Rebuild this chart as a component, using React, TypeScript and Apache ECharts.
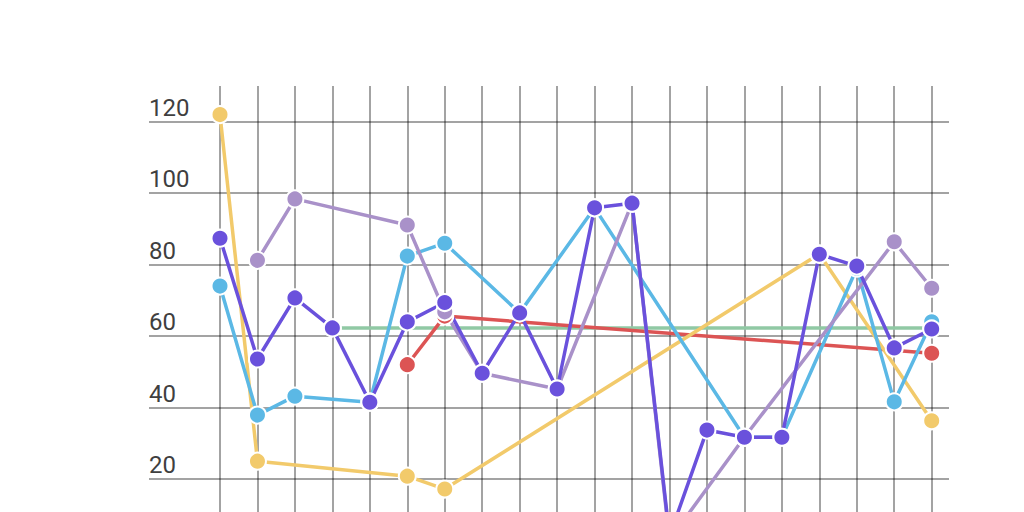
import React, { useEffect, useRef } from "react";
import * as echarts from "echarts";

const categories = ["1", "2", "3", "4", "5", "6", "7", "8", "9", "10", "11", "12", "13", "14", "15", "16", "17", "18", "19", "20"];
const yTicks = [0, 20, 40, 60, 80, 100, 120];

const greenValues = [null, null, null, 62.3, null, null, null, null, null, null, null, null, null, null, null, null, null, null, null, 62.3];
const redValues = [null, null, null, null, null, 52, 65.6, null, null, null, null, null, null, null, null, null, null, null, null, 55.2];
const yellowValues = [122, 25, null, null, null, 20.8, 17.2, null, null, null, null, null, null, null, null, null, 83, null, null, 36.3];
const blueValues = [74, 37.9, 43.2, null, 41.5, 82.4, 86, null, 66.5, null, 95.9, null, null, null, 31.7, 31.7, null, 79, 41.6, 64];
const lilacValues = [null, 81.2, 98.4, null, null, 91.1, 66.8, 49.6, null, 45.2, null, 97.2, 3, null, 31.7, null, null, null, 86.4, 73.4];
const violetValues = [87.4, 53.6, 70.7, 62.3, 41.5, 64, 69.4, 49.6, 66.5, 45.2, 95.9, 97.2, 4, 33.7, 31.7, 31.7, 82.9, 79.6, 56.7, 62];

const seriesDefs = [
  { name: "green", color: "#90c9a4", data: greenValues },
  { name: "red", color: "#dc5454", data: redValues },
  { name: "yellow", color: "#f2ca6b", data: yellowValues },
  { name: "blue", color: "#5bb8e5", data: blueValues },
  { name: "lilac", color: "#a991c9", data: lilacValues },
  { name: "violet", color: "#6a51dc", data: violetValues },
];

const gridLine = { color: "rgba(0,0,0,0.36)", width: 2 };

export default function App() {
  const ref = useRef<HTMLDivElement>(null);
  useEffect(() => {
    if (!ref.current) return;
    const chart = echarts.init(ref.current, undefined, { renderer: "svg" });
    chart.setOption({
      animation: false,
      backgroundColor: "#ffffff",
      grid: [
        { left: 149, right: 75, top: 121.7, height: 428.8 },
        { left: 220, right: 92.3, top: 86, height: 464.5 },
      ],
      xAxis: [
        { type: "value", gridIndex: 0, show: false, min: 0, max: 1 },
        {
          type: "category",
          gridIndex: 1,
          data: categories,
          boundaryGap: false,
          axisLine: { show: false },
          axisTick: { show: false },
          axisLabel: { show: false },
          splitLine: { show: true, lineStyle: gridLine },
        },
      ],
      yAxis: [
        {
          type: "value",
          gridIndex: 0,
          min: yTicks[0],
          max: yTicks[yTicks.length - 1],
          interval: 20,
          axisLine: { show: false },
          axisTick: { show: false },
          splitLine: { show: true, lineStyle: gridLine },
          axisLabel: {
            inside: true,
            margin: 0,
            verticalAlign: "bottom",
            showMinLabel: false,
            fontSize: 24,
            fontFamily: "Roboto",
            color: "#3f3f3f",
            padding: [0, 0, 2, 0],
          },
        },
        { type: "value", gridIndex: 1, min: 0, max: 130, show: false, splitLine: { show: false } },
      ],
      series: seriesDefs.map((s) => ({
        name: s.name,
        type: "line",
        xAxisIndex: 1,
        yAxisIndex: 1,
        data: s.data,
        connectNulls: true,
        showAllSymbol: true,
        symbol: "circle",
        symbolSize: 17,
        lineStyle: { color: s.color, width: 3.5 },
        itemStyle: { color: s.color, borderColor: "#ffffff", borderWidth: 2 },
        emphasis: { disabled: true },
      })),
    });
    return () => chart.dispose();
  }, []);
  return (
    <div style={{ position: "absolute", left: 0, top: 0, width: 1024, height: 512, overflow: "hidden" }}>
      <div ref={ref} style={{ width: 1024, height: 600 }} />
    </div>
  );
}
